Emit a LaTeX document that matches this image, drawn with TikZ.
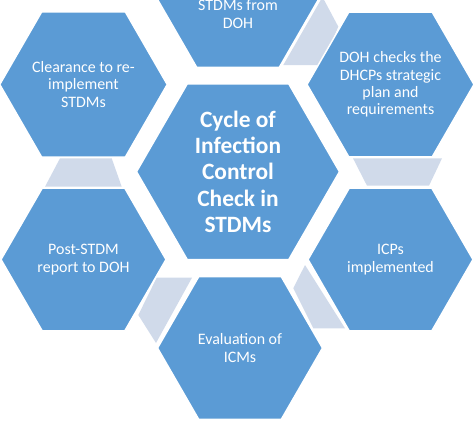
\documentclass[tikz,border=0pt]{standalone}
\usepackage{fontspec}
\setmainfont{Carlito}
\usetikzlibrary{shapes.geometric}
\definecolor{hexblue}{HTML}{5B9BD5}
\definecolor{linkgray}{HTML}{D0DAEA}
\begin{document}
\begin{tikzpicture}[x=1bp,y=-1bp,
  hexo/.style={regular polygon, regular polygon sides=6, minimum size=165bp,
    fill=hexblue, draw=white, line width=1.5bp, inner sep=0pt, text=white,
    align=center, font=\fontsize{16}{17.5}\selectfont},
  hexc/.style={hexo, minimum size=203bp, font=\bfseries\fontsize{23.5}{26.5}\selectfont},
  plain/.style={text=white, align=center, inner sep=0pt, font=\fontsize{16}{17.5}\selectfont},
  link/.style={fill=linkgray}]
\useasboundingbox (0,0) rectangle (474,420);
\clip (0,0) rectangle (474,420);
% connectors between neighbouring hexagons
\fill[link] (322.5,-3) -- (338.3,26.7) -- (321.7,65) -- (283.3,65) -- cycle;
\fill[link] (60,158.3) -- (111.7,158.3) -- (121.7,186.7) -- (45,186.7) -- cycle;
\fill[link] (353,158.3) -- (442,158.3) -- (429,185.7) -- (367,185.7) -- cycle;
\fill[link] (156.7,277.7) -- (192,277.7) -- (156,343) -- (138.3,315) -- cycle;
\fill[link] (305,265) -- (345,328.3) -- (313.3,328.3) -- (293.3,288.3) -- cycle;
% hexagons
\node[hexc] (center) at (238,171.7) {Cycle of\\Infection\\Control\\Check in\\STDMs};
\node[hexo] (top) at (238,-4) {};
\node[plain] (toptext) at (238,14) {STDMs from\\DOH};
\node[hexo] (ur) at (390.5,84.5) {DOH checks the\\DHCPs strategic\\plan and\\requirements};
\node[hexo] (lr) at (390.5,259.5) {ICPs\\implemented};
\node[hexo] (bottom) at (240,348) {Evaluation of\\ICMs};
\node[hexo] (ll) at (83.5,259.5) {Post-STDM\\report to DOH};
\node[hexo] (ul) at (83.5,84.5) {Clearance to re-\\implement\\STDMs};
\end{tikzpicture}
\end{document}
